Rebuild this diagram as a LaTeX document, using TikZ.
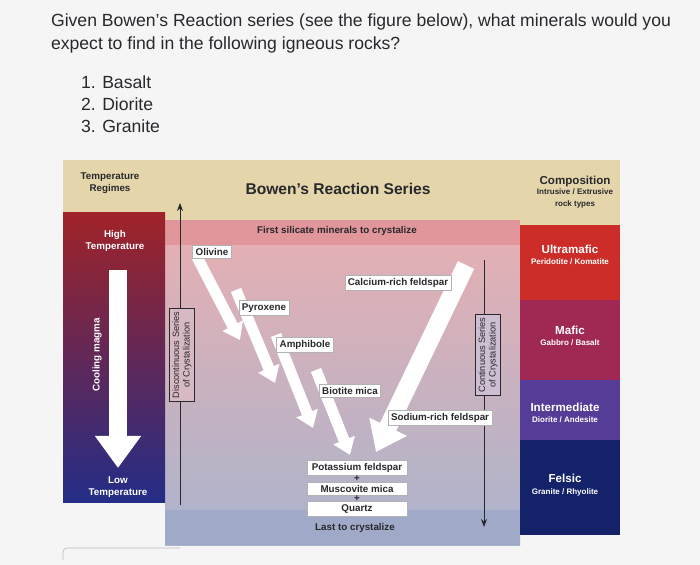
\documentclass[tikz,border=0pt]{standalone}
\usepackage{fontspec}
\setmainfont{Liberation Sans}
\usetikzlibrary{arrows.meta}
\definecolor{tan}{RGB}{228,214,170}
\definecolor{ink}{RGB}{40,40,45}
\definecolor{ctop}{RGB}{232,175,178}
\definecolor{cbot}{RGB}{170,180,205}
\definecolor{cband}{RGB}{225,150,155}
\definecolor{cbband}{RGB}{160,170,200}
\definecolor{ltop}{RGB}{160,35,40}
\definecolor{lbot}{RGB}{35,45,135}
\definecolor{um}{RGB}{205,45,40}
\definecolor{mf}{RGB}{160,40,85}
\definecolor{im}{RGB}{85,60,150}
\definecolor{fe}{RGB}{20,35,105}
\definecolor{dsf}{RGB}{215,185,195}
\definecolor{csf}{RGB}{205,190,210}
\begin{document}
\begin{tikzpicture}[x=0.5pt,y=-0.5pt,
  lbl/.style={font=\fontsize{4.9}{5.8}\selectfont\bfseries,text=ink},
  box/.style={lbl,fill=white,draw=gray!60,inner sep=1.5pt},
  wl/.style={lbl,text=white,align=center},
  harrow/.style={line width=5.5pt,white,-{Triangle[length=8pt,width=11pt]}},
  q/.style={font=\fontsize{8.8}{11}\selectfont,text=ink,anchor=west}]
\useasboundingbox (0,0) rectangle (700,565);
\fill[gray!8] (0,0) rectangle (700,565);
\node[q] (q1) at (44,22) {Given Bowen's Reaction series (see the figure below), what minerals would you};
\node[q] (q2) at (44,45) {expect to find in the following igneous rocks?};
\node[q] (b1) at (74,82) {1. Basalt};
\node[q] (b2) at (74,104) {2. Diorite};
\node[q] (b3) at (74,126) {3. Granite};
% center background
\shade[top color=ctop,bottom color=cbot] (165,220) rectangle (520,545);
\fill[cband] (165,220) rectangle (520,245);
\fill[cbband] (165,510) rectangle (520,545);
\fill[tan] (63,160) rectangle (620,220);
\fill[tan] (520,160) rectangle (620,225);
% left column
\shade[top color=ltop,bottom color=lbot] (63,212) rectangle (165,503);
\fill[tan] (63,160) rectangle (165,212);
% right column
\fill[um] (520,225) rectangle (620,300);
\fill[mf] (520,300) rectangle (620,380);
\fill[im] (520,380) rectangle (620,440);
\fill[fe] (520,440) rectangle (620,535);
% texts left
\node[lbl,align=center] (tr) at (110,183) {Temperature\\Regimes};
\node[wl] (ht) at (115,241) {High\\Temperature};
\node[wl] (lt) at (118,487) {Low\\Temperature};
\node[wl,rotate=90] (cm) at (97,355) {Cooling magma};
\coordinate (ca) at (118,270);
\coordinate (cb) at (118,468);
\draw[line width=9pt,white,-{Triangle[length=16pt,width=22pt]}] (ca) -- (cb);
% header
\node[font=\fontsize{7.8}{9}\selectfont\bfseries,text=ink] (title) at (338,189) {Bowen's Reaction Series};
\node[lbl,align=center] (comp) at (575,192) {{\fontsize{5.8}{6.5}\selectfont Composition}\\[-0.5pt]{\fontsize{4}{5}\selectfont Intrusive / Extrusive}\\{\fontsize{4}{5}\selectfont rock types}};
\node[lbl] (first) at (337,231) {First silicate minerals to crystalize};
\node[lbl] (last) at (355,528) {Last to crystalize};
% right texts
\node[wl] (umt) at (570,255) {{\fontsize{5.8}{6.5}\selectfont Ultramafic}\\{\fontsize{4}{5}\selectfont Peridotite / Komatite}};
\node[wl] (mft) at (570,336) {{\fontsize{5.8}{6.5}\selectfont Mafic}\\{\fontsize{4}{5}\selectfont Gabbro / Basalt}};
\node[wl] (imt) at (565,413) {{\fontsize{5.8}{6.5}\selectfont Intermediate}\\{\fontsize{4}{5}\selectfont Diorite / Andesite}};
\node[wl] (fet) at (565,485) {{\fontsize{5.8}{6.5}\selectfont Felsic}\\{\fontsize{4}{5}\selectfont Granite / Rhyolite}};
% series lines
\coordinate (d1) at (180,505);
\coordinate (d2) at (180,203);
\draw[ink,-{Stealth[length=4pt]}] (d1) -- (d2);
\node[box,rotate=90,align=center,font=\fontsize{4.6}{5.2}\selectfont,fill=dsf,draw=ink] (ds) at (182,355) {Discontinuous Series\\of Crystalization};
\coordinate (c1) at (484,260);
\coordinate (c2) at (484,527);
\draw[ink,-{Stealth[length=4pt]}] (c1) -- (c2);
\node[box,rotate=90,align=center,font=\fontsize{4.6}{5.2}\selectfont,fill=csf,draw=ink] (cs) at (488,355) {Continuous Series\\of Crystalization};
% hollow arrows
\coordinate (o1) at (197,257); \coordinate (o2) at (240,340);
\coordinate (p1) at (236,290); \coordinate (p2) at (275,383);
\coordinate (a1) at (276,335); \coordinate (a2) at (313,428);
\coordinate (bb1) at (316,370); \coordinate (bb2) at (350,455);
\draw[harrow] (o1) -- (o2);
\draw[harrow] (p1) -- (p2);
\draw[harrow] (a1) -- (a2);
\draw[harrow] (bb1) -- (bb2);
\coordinate (k1) at (466,265); \coordinate (k2) at (376,452);
\draw[line width=9pt,white,-{Triangle[length=14pt,width=20pt]}] (k1) -- (k2);
% mineral labels
\node[box] (ol) at (212,252) {Olivine};
\node[box] (py) at (264,308) {Pyroxene};
\node[box] (am) at (305,345) {Amphibole};
\node[box] (bi) at (350,391) {Biotite mica};
\node[box] (ca2) at (398,283) {Calcium-rich feldspar};
\node[box] (na) at (440,418) {Sodium-rich feldspar};
\node[box,minimum width=50pt] (kf) at (357,468) {Potassium feldspar};
\node[lbl] (pl1) at (357,479) {+};
\node[box,minimum width=50pt] (mu) at (357,489) {Muscovite mica};
\node[lbl] (pl2) at (357,499) {+};
\node[box,minimum width=50pt] (qz) at (357,509) {Quartz};
\draw[gray!50,rounded corners=2pt] (63,560) -- (63,548) -- (180,548);
\end{tikzpicture}
\end{document}
